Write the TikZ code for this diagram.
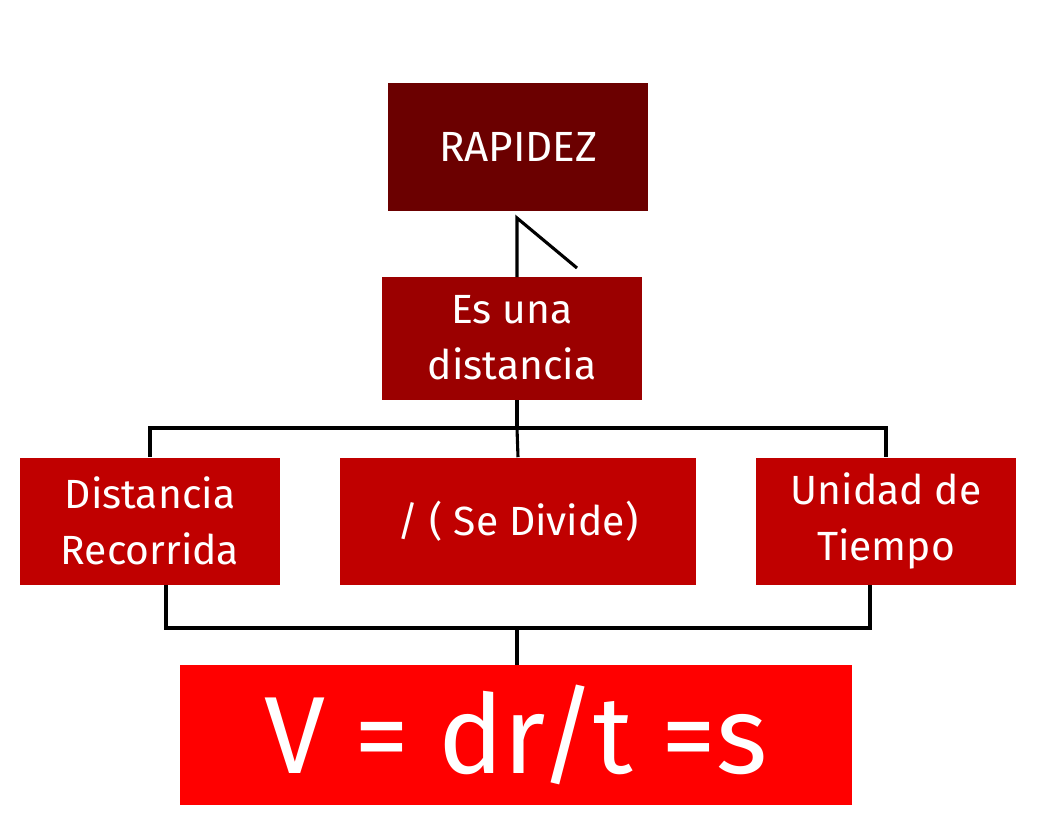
\documentclass[tikz,border=0pt]{standalone}
\usepackage{fontspec}
\setmainfont{Fira Sans}
\definecolor{dk}{HTML}{6B0000}
\definecolor{md}{HTML}{9B0000}
\definecolor{lt}{HTML}{C00000}
\definecolor{br}{HTML}{FF0000}
\begin{document}
\begin{tikzpicture}[x=0.025cm,y=-0.025cm,
  box/.style={fill=#1,draw=none,text=white,align=center,inner sep=0pt},
  conn/.style={line width=2.2pt,black}]
\useasboundingbox[fill=white] (0,0) rectangle (1053,812);
\node[box=dk,minimum width=260*0.025cm,minimum height=128*0.025cm,font=\fontsize{30}{34}\selectfont] (r) at (518,147) {RAPIDEZ};
\node[box=md,minimum width=260*0.025cm,minimum height=123*0.025cm,font=\fontsize{29}{40}\selectfont] (e) at (512,338) {Es una\\distancia};
\node[box=lt,minimum width=260*0.025cm,minimum height=127*0.025cm,font=\fontsize{29}{40}\selectfont] (d) at (150,521) {Distancia\\Recorrida};
\node[box=lt,minimum width=356*0.025cm,minimum height=127*0.025cm,font=\fontsize{29}{40}\selectfont] (s) at (518,521) {/ ( Se Divide)};
\node[box=lt,minimum width=260*0.025cm,minimum height=127*0.025cm,font=\fontsize{29}{40}\selectfont] (u) at (886,521) {Unidad de\\Tiempo};
\node[box=br,minimum width=672*0.025cm,minimum height=140*0.025cm,font=\fontsize{78}{80}\selectfont] (v) at (516,735) {V = dr/t =s};
\coordinate (t1) at (517,218);
\coordinate (t2) at (577,268);
\coordinate (h) at (517,428);
\coordinate (b) at (517,628);
\draw[conn] (517,277) -- (t1) -- (t2);
\draw[conn] (e.south -| h) -- (h);
\draw[conn] (d.north) |- (h) -| (u.north);
\draw[conn] (h) -- (s.north);
\draw[conn] (166,585) |- (b) -| (870,585);
\draw[conn] (b) -- (v.north -| b);
\end{tikzpicture}
\end{document}
